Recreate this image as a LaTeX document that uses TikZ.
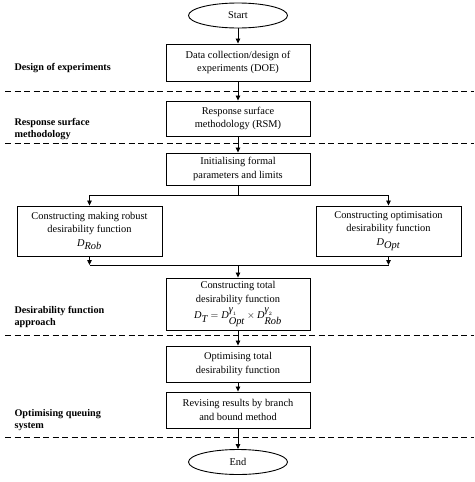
\documentclass[tikz,border=0pt]{standalone}
\usepackage{fontspec}
\setmainfont{Liberation Serif}
\usetikzlibrary{arrows.meta,shapes.geometric}
\newcommand{\ti}[1]{\textit{#1}}
\begin{document}
\begin{tikzpicture}[x=1pt,y=-1pt,
  box/.style={draw,line width=0.9pt,rectangle,align=center,inner sep=1pt,
    font=\fontsize{10.4}{13.5}\selectfont},
  term/.style={draw,line width=0.9pt,ellipse,minimum width=99pt,minimum height=25pt,inner sep=0pt,
    font=\fontsize{10.4}{13.5}\selectfont},
  lab/.style={anchor=west,align=left,font=\fontsize{10.2}{12}\selectfont\bfseries},
  arr/.style={line width=0.8pt,-{Triangle[length=5pt,width=4.5pt]}},
  ln/.style={line width=0.8pt},
  sep/.style={line width=0.8pt,dash pattern=on 6pt off 3.5pt}]
\useasboundingbox (0,0) rectangle (474,482);
% terminals
\node[term] (start) at (238,15.5) {Start};
\node[term] (end) at (238,462) {End};
% boxes
\node[box,minimum width=144pt,minimum height=37pt] (doe) at (238,62.5) {Data collection/design of\\experiments (DOE)};
\node[box,minimum width=144pt,minimum height=35pt] (rsm) at (238,118.5) {Response surface\\methodology (RSM)};
\node[box,minimum width=144pt,minimum height=32pt] (init) at (238,169) {Initialising formal\\parameters and limits};
\node[box,minimum width=145pt,minimum height=50pt] (rob) at (89.5,231) {Constructing making robust\\desirability function\\$\ti{D}_{\ti{Rob}}$};
\node[box,minimum width=145pt,minimum height=50pt] (opt) at (388.5,231) {Constructing optimisation\\desirability function\\$\ti{D}_{\ti{Opt}}$};
\node[box,minimum width=144pt,minimum height=52pt] (tot) at (238,304) {Constructing total\\desirability function\\[3pt]$\ti{D}_{\ti{T}}=\ti{D}_{\ti{Opt}}^{\ti{γ}_1}\times \ti{D}_{\ti{Rob}}^{\ti{γ}_2}$};
\node[box,minimum width=144pt,minimum height=36pt] (optim) at (238,364) {Optimising total\\desirability function};
\node[box,minimum width=144pt,minimum height=36pt] (rev) at (238,410) {Revising results by branch\\and bound method};
% phase labels
\node[lab] (l1) at (11,68) {Design of experiments};
\node[lab] (l2) at (11,129) {Response surface\\methodology};
\node[lab] (l3) at (11,317) {Desirability function\\approach};
\node[lab] (l4) at (11,420) {Optimising queuing\\system};
% separators
\coordinate (s1a) at (5,91); \coordinate (s1b) at (474,91);
\coordinate (s2a) at (5,143); \coordinate (s2b) at (474,143);
\coordinate (s3a) at (5,335); \coordinate (s3b) at (474,335);
\coordinate (s4a) at (5,437); \coordinate (s4b) at (474,437);
\draw[sep] (s1a) -- (s1b);
\draw[sep] (s2a) -- (s2b);
\draw[sep] (s3a) -- (s3b);
\draw[sep] (s4a) -- (s4b);
% connectors
\coordinate (br) at (238,195);
\coordinate (mg) at (238,265);
\draw[arr] (start) -- (doe);
\draw[arr] (doe) -- (rsm);
\draw[arr] (rsm) -- (init);
\draw[ln] (init.south) -- (br);
\draw[arr] (br) -| (rob.north);
\draw[arr] (br) -| (opt.north);
\draw[arr] (rob.south) -- (rob.south |- mg);
\draw[arr] (opt.south) -- (opt.south |- mg);
\draw[ln] (rob.south |- mg) -- (opt.south |- mg);
\draw[arr] (mg) -- (tot.north);
\draw[arr] (tot) -- (optim);
\draw[arr] (optim) -- (rev);
\draw[arr] (rev) -- (end);
\end{tikzpicture}
\end{document}
